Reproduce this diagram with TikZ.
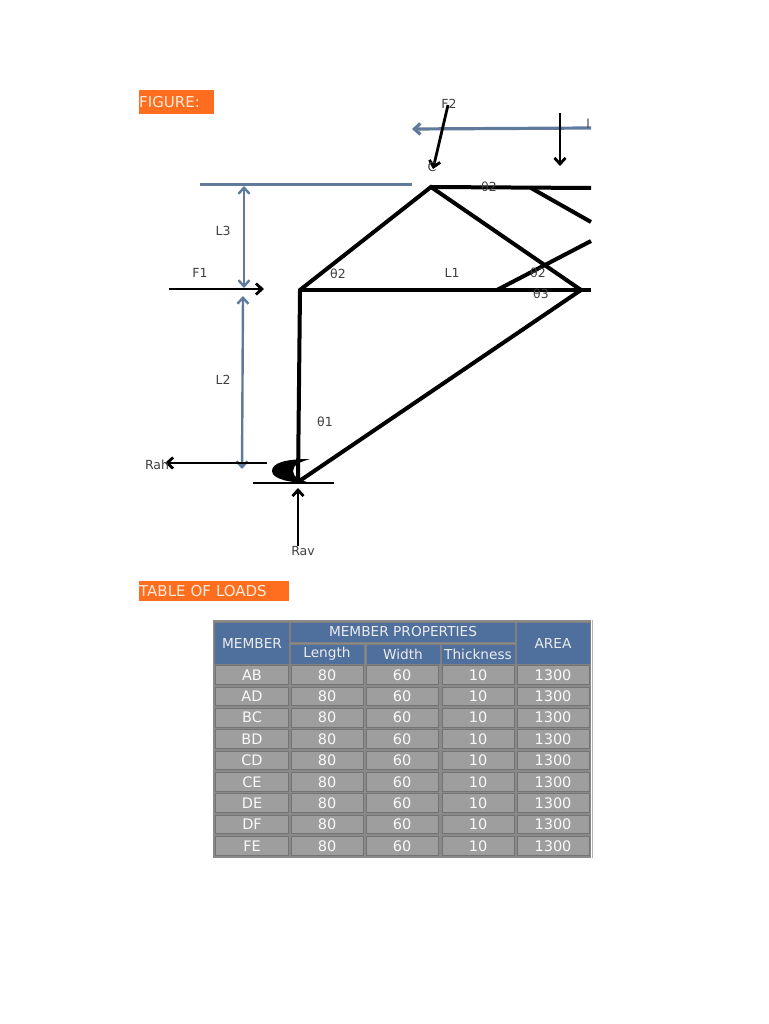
\documentclass[tikz,border=0pt]{standalone}
\usepackage{fontspec}
\usetikzlibrary{arrows.meta}
\setmainfont{DejaVu Sans}
\definecolor{bannerorange}{HTML}{FF6D1F}
\definecolor{dimblue}{HTML}{5F7A9C}
\definecolor{headblue}{HTML}{4F6F9C}
\definecolor{cellgray}{HTML}{9E9E9E}
\definecolor{framegray}{HTML}{8A8A8A}
\tikzset{
    >={Straight Barb[length=6pt,width=11pt]},
    member/.style={line width=4pt},
    dimline/.style={line width=2.4pt,dimblue},
    loadarrow/.style={line width=2.8pt,->},
    lbl/.style={font=\fontsize{12.5}{14}\selectfont,text=black!75,inner sep=0pt},
    banner/.style={fill=bannerorange,text=white!85!orange,anchor=west,inner sep=0pt,font=\fontsize{15}{17}\selectfont},
    headcell/.style={fill=headblue,draw=black!50,line width=0.8pt,text=white!85!gray,inner sep=0pt,font=\fontsize{13.7}{16}\selectfont},
    datacell/.style={fill=cellgray,draw=black!55,line width=0.9pt,text=white!95!gray,inner sep=0pt,minimum height=18.5pt,font=\fontsize{14.5}{17}\selectfont},
}
\begin{document}
\begin{tikzpicture}[x=1pt,y=-1pt]
    \useasboundingbox (0,0) rectangle (768,1024);
    % Define the joints of the truss
    \coordinate (A) at (298,482);
    \coordinate (D) at (300,290);
    \coordinate (C) at (431,187);
    \coordinate (E) at (581,290);
    \coordinate (P) at (531,188);
    \coordinate (Q) at (497,290);
    \coordinate (TopEnd) at (591,188);
    \coordinate (MidEnd) at (591,290);
    \coordinate (PEnd) at (591,222);
    \coordinate (QEnd) at (591,241);
    % Banners
    \node[banner,minimum width=75pt,minimum height=24pt,text width=75pt,align=left] (figbanner) at (139,102) {FIGURE:};
    \node[banner,minimum width=150pt,minimum height=20pt,text width=150pt,align=left] (tabbanner) at (139,591) {TABLE OF LOADS};
    % Support
    \fill (310,459) .. controls (285,459) and (272,463) .. (272,471) .. controls (272,479) and (290,483) .. (310,483)
        .. controls (300,480) and (293,477) .. (293,471) .. controls (293,465) and (300,462) .. (310,459) -- cycle;
    \coordinate (GroundL) at (253,483);
    \coordinate (GroundR) at (334,483);
    \draw[line width=1.8pt] (GroundL) -- (GroundR);
    % Draw the members
    \draw[member] (A) -- (D) -- (C) -- (E) -- (A);
    \draw[member] (D) -- (MidEnd);
    \draw[member] (C) -- (TopEnd);
    \draw[member] (P) -- (PEnd);
    \draw[member] (Q) -- (QEnd);
    % Dimension lines
    \coordinate (DimL) at (200,185);
    \coordinate (DimR) at (412,185);
    \draw[dimline,line width=3pt] (DimL) -- (DimR);
    \coordinate (L3top) at (244,186);
    \coordinate (L3bot) at (244,288);
    \coordinate (L2top) at (243,296);
    \coordinate (L2bot) at (242,469);
    \draw[dimline,<->] (L3top) -- (L3bot);
    \draw[dimline,<->] (L2top) -- (L2bot);
    \coordinate (TopR) at (591,128);
    \coordinate (TopL) at (412,129);
    \draw[dimline,line width=3.2pt,->] (TopR) -- (TopL);
    % Loads and reactions
    \coordinate (F1s) at (169,289);
    \coordinate (F1e) at (264,289);
    \draw[loadarrow] (F1s) -- (F1e);
    \coordinate (F2s) at (448,105);
    \coordinate (F2e) at (433,169);
    \draw[loadarrow] (F2s) -- (F2e);
    \coordinate (F3s) at (560,113);
    \coordinate (F3e) at (560,166);
    \draw[loadarrow] (F3s) -- (F3e);
    \coordinate (Rahs) at (267,463);
    \coordinate (Rahe) at (165,463);
    \draw[loadarrow] (Rahs) -- (Rahe);
    \coordinate (Ravs) at (298,546);
    \coordinate (Rave) at (298,488);
    \draw[loadarrow] (Ravs) -- (Rave);
    % Labels
    \node[lbl] (labF2) at (449,104) {F2};
    \node[lbl] (labC) at (432,167) {C};
    \node[lbl] (labI) at (588,124) {l};
    \node[lbl] (labL3) at (223,231) {L3};
    \node[lbl] (labL2) at (223,380) {L2};
    \node[lbl] (labL1) at (452,273) {L1};
    \node[lbl] (labF1) at (200,273) {F1};
    \node[lbl] (labAa) at (338,274) {θ2};
    \node[lbl] (labAb) at (538,273) {θ2};
    \node[lbl] (labAc) at (489,187) {θ2};
    \node[lbl] (labAd) at (541,294) {θ3};
    \node[lbl] (labAe) at (325,422) {θ1};
    \node[lbl] (labRah) at (157,465) {Rah};
    \node[lbl] (labRav) at (303,551) {Rav};
    % Table of loads
    \fill[framegray] (213,620) rectangle (591,858);
    \draw[gray!60,line width=1pt] (592,620) -- (592,858);
    \node[headcell,minimum width=75pt,minimum height=42pt] (hMember) at (252,643) {MEMBER};
    \node[headcell,minimum width=225pt,minimum height=20pt] (hProps) at (403,632) {MEMBER PROPERTIES};
    \node[headcell,minimum width=74pt,minimum height=42pt] (hArea) at (553,643) {AREA};
    \node[headcell,minimum width=74pt,minimum height=20pt] (hLength) at (327,654) {Length};
    \node[headcell,minimum width=74pt,minimum height=20pt] (hWidth) at (403,654) {Width};
    \node[headcell,minimum width=74pt,minimum height=20pt] (hThick) at (478,654) {Thickness};
    \foreach \name [count=\i from 0] in {AB,AD,BC,BD,CD,CE,DE,DF,FE} {
        \pgfmathsetmacro{\rowy}{675+21.35*\i}
        \node[datacell,minimum width=73pt] (m\i) at (252,\rowy) {\name};
        \node[datacell,minimum width=72pt] (l\i) at (327,\rowy) {80};
        \node[datacell,minimum width=72pt] (w\i) at (402,\rowy) {60};
        \node[datacell,minimum width=72pt] (t\i) at (478,\rowy) {10};
        \node[datacell,minimum width=72pt] (a\i) at (553,\rowy) {1300};
    }
\end{tikzpicture}
\end{document}
